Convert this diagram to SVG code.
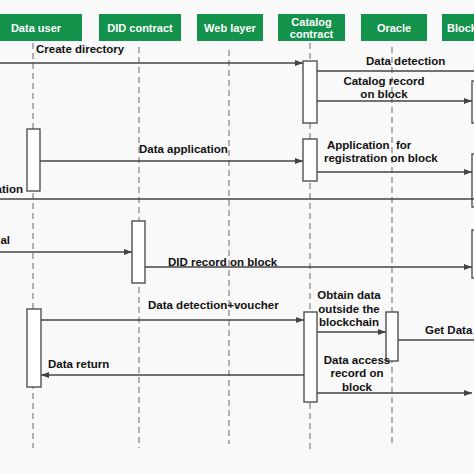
<svg xmlns="http://www.w3.org/2000/svg" width="474" height="474" viewBox="0 0 474 474">
<defs>
<style>
.hdr{fill:#12924a}
.ht{font-family:"Liberation Sans",Arial,sans-serif;font-weight:bold;font-size:11px;fill:#fff;text-anchor:middle}
.life{stroke:#8a8a8a;stroke-width:1.3;stroke-dasharray:6,4;fill:none}
.act{fill:#fff;stroke:#444;stroke-width:1.3}
.msg{stroke:#444;stroke-width:1.3;fill:none}
.arr{marker-end:url(#ah)}
.lb{font-family:"Liberation Sans",Arial,sans-serif;font-weight:bold;font-size:11.5px;fill:#111}
.c{text-anchor:middle}
</style>
<marker id="ah" markerWidth="8" markerHeight="6" refX="8" refY="3" orient="auto" markerUnits="userSpaceOnUse">
<path d="M0,0 L8,3 L0,6 Z" fill="#444"/>
</marker>
</defs>
<rect width="474" height="474" fill="#f9f9f9"/>

<g id="lifelines">
<line class="life" x1="33" y1="43" x2="33" y2="448"/>
<line class="life" x1="139" y1="47" x2="139" y2="448"/>
<line class="life" x1="229" y1="50" x2="229" y2="444"/>
<line class="life" x1="310" y1="43" x2="310" y2="450"/>
<line class="life" x1="392" y1="47" x2="392" y2="447"/>
</g>

<g id="node-data-user"><rect class="hdr" x="-12" y="14" width="94" height="27"/><text class="ht" x="36" y="31.5">Data user</text></g>
<g id="node-did-contract"><rect class="hdr" x="99" y="14" width="82" height="27"/><text class="ht" x="140" y="31.5">DID contract</text></g>
<g id="node-web-layer"><rect class="hdr" x="197" y="14" width="66" height="27"/><text class="ht" x="230" y="31.5">Web layer</text></g>
<g id="node-catalog-contract"><rect class="hdr" x="278" y="14" width="67" height="27"/><text class="ht" x="311.5" y="26">Catalog</text><text class="ht" x="311.5" y="38">contract</text></g>
<g id="node-oracle"><rect class="hdr" x="361" y="14" width="66" height="27"/><text class="ht" x="394" y="31.5">Oracle</text></g>
<g id="node-block"><rect class="hdr" x="442" y="14" width="66" height="27"/><text class="ht" x="447" y="31.5" style="text-anchor:start">Blockchain</text></g>

<g id="activations">
<rect class="act" x="303" y="61" width="14" height="62"/>
<rect class="act" x="472" y="81" width="14" height="42"/>
<rect class="act" x="27" y="129" width="13" height="62"/>
<rect class="act" x="303" y="139" width="14" height="42"/>
<rect class="act" x="472" y="154" width="14" height="53"/>
<rect class="act" x="132" y="221" width="13" height="62"/>
<rect class="act" x="472" y="230" width="14" height="48"/>
<rect class="act" x="27" y="309" width="14" height="78"/>
<rect class="act" x="304" y="312" width="13" height="90"/>
<rect class="act" x="386" y="312" width="12" height="49"/>
</g>

<g id="connectors">
<line class="msg arr" x1="0" y1="63" x2="303" y2="63"/>
<line class="msg" x1="317" y1="71" x2="474" y2="71"/>
<line class="msg arr" x1="317" y1="101" x2="472" y2="101"/>
<line class="msg arr" x1="40" y1="161" x2="303" y2="161"/>
<line class="msg arr" x1="317" y1="172" x2="472" y2="172"/>
<line class="msg" x1="0" y1="199" x2="474" y2="199"/>
<line class="msg arr" x1="0" y1="252" x2="132" y2="252"/>
<line class="msg arr" x1="145" y1="267" x2="472" y2="267"/>
<line class="msg arr" x1="41" y1="320" x2="304" y2="320"/>
<line class="msg arr" x1="317" y1="332" x2="386" y2="332"/>
<line class="msg" x1="398" y1="340" x2="474" y2="340"/>
<line class="msg arr" x1="304" y1="375" x2="41" y2="375"/>
<line class="msg arr" x1="317" y1="393" x2="472" y2="393"/>
</g>

<g id="labels">
<text class="lb" x="36" y="53">Create directory</text>
<text class="lb" x="366" y="65">Data detection</text>
<text class="lb c" x="384" y="85">Catalog record</text>
<text class="lb c" x="384" y="98">on block</text>
<text class="lb" x="139" y="153">Data application</text>
<text class="lb" x="327" y="149" xml:space="preserve">Application  for</text>
<text class="lb" x="324" y="162">registration on block</text>
<text class="lb" x="23" y="193" text-anchor="end">ation</text>
<text class="lb" x="10" y="244" text-anchor="end">al</text>
<text class="lb" x="168" y="266">DID record on block</text>
<text class="lb" x="148" y="309">Data detection+voucher</text>
<text class="lb c" x="349" y="299">Obtain data</text>
<text class="lb c" x="349" y="313">outside the</text>
<text class="lb c" x="349" y="326">blockchain</text>
<text class="lb" x="425" y="334">Get Data</text>
<text class="lb" x="48" y="368">Data return</text>
<text class="lb c" x="357" y="364">Data access</text>
<text class="lb c" x="357" y="377">record on</text>
<text class="lb c" x="357" y="391">block</text>
</g>
</svg>
